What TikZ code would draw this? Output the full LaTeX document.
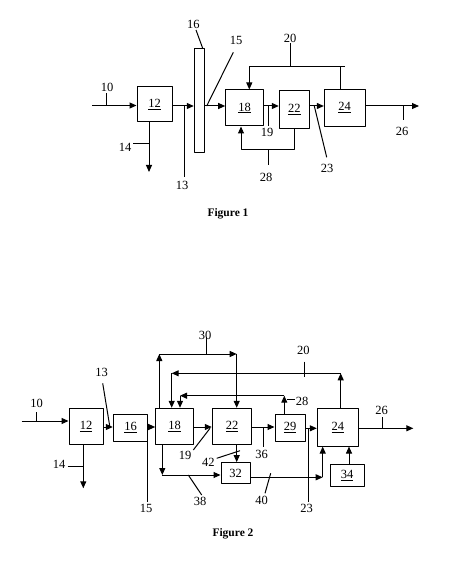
\documentclass[tikz,border=0pt]{standalone}
\usepackage{fontspec}
\setmainfont{Liberation Serif}
\usetikzlibrary{arrows.meta}
\begin{document}
\begin{tikzpicture}[x=1pt,y=-1pt,line width=1pt,line join=round,
	arr/.style={-{Triangle[length=7pt,width=6pt]}},
	blk/.style={draw,inner sep=0pt,font=\fontsize{12.5}{13}\selectfont},
	lbl/.style={inner sep=0pt,font=\fontsize{12.5}{13}\selectfont},
	figcap/.style={inner sep=0pt,font=\fontsize{11.5}{13}\selectfont\bfseries}]
	\useasboundingbox (0,0) rectangle (474,561);
	% Figure 1
	\foreach \n/\t/\x/\y/\w/\h in {a12/\underline{12}/154.5/104.5/35/35,
		a16/{}/199.3/100.5/10/104.4,a18/\underline{18}/244.5/108/37.6/36,
		a22/\underline{22}/294.3/109.2/30/38.3,a24/\underline{24}/344.7/107.7/40.7/36.7}
	\node[blk,minimum width=\w pt,minimum height=\h pt] (\n) at (\x,\y) {\t};
	\path
	(92,105.5) coordinate (A10)
	(0,106) coordinate (F1)
	(149,172) coordinate (D14)
	(419,106) coordinate (A26)
	(345,66.7) coordinate (R20)
	(340.7,66.7) coordinate (X20)
	(249.3,66.7) coordinate (L20)
	(241,150) coordinate (L28)
	;
	\draw[arr] (A10) -- (a12.west|-A10);
	\draw[arr] (D14|-a12.south) -- (D14);
	\draw[arr] (a12.east|-F1) -- (a16.west|-F1);
	\draw[arr] (a16.east|-F1) -- (a18.west|-F1);
	\draw[arr] (a18.east|-F1) -- (a22.west|-F1);
	\draw[arr] (a22.east|-F1) -- (a24.west|-F1);
	\draw[arr] (a24.east|-F1) -- (A26);
	\draw (X20|-a24.north) -- (X20);
	\draw (R20) -- (L20);
	\draw[arr] (L20) -- (L20|-a18.north);
	\draw[arr] (a22.south) |- (L28) -- (L28|-a18.south);
	\foreach \p/\q in {{106.7,105.5}/{106.7,93},{133,143.3}/{149,143.3},{184,106}/{184,177},
		{196,30}/{202.7,48.3},{206.7,106}/{233.3,52.3},{268.3,106}/{268.3,126},
		{314.3,106}/{326.7,157.3},{403.3,106}/{403.3,120},{290.7,43}/{290.7,66.7},
		{268.3,150}/{268.3,165}}
	\draw (\p) -- (\q);
	\foreach \n/\t/\x/\y in {p10/10/107/87,p14/14/125/147,p13/13/182/185,p16/16/193.3/24,
		p15/15/236/40,p19/19/267/132,p23/23/327/168,p26/26/402/131,p20/20/290/38.5,p28/28/266/177}
	\node[lbl] (\n) at (\x,\y) {\t};
	\node[figcap] (fig1) at (228,214) {Figure 1};
	% Figure 2
	\foreach \n/\t/\x/\y/\w/\h in {b12/\underline{12}/86.2/426.3/34.3/36,
		b16/\underline{16}/130.5/427.7/34.4/26.7,b18/\underline{18}/174.5/426.3/37.6/36,
		b22/\underline{22}/232/426.3/39.4/36,b32/32/235.5/473.3/29/21.3,
		b29/\underline{29}/290/427.7/30/26.7,b24/\underline{24}/337.8/427.2/41/37.7,
		b34/\underline{34}/347.2/475.2/34.3/21.7}
	\node[blk,minimum width=\w pt,minimum height=\h pt] (\n) at (\x,\y) {\t};
	\path
	(21.7,421) coordinate (In2)
	(0,427) coordinate (F2)
	(0,428.3) coordinate (G2)
	(83.3,488.3) coordinate (D14b)
	(413.3,428.3) coordinate (Out2)
	(162.3,475) coordinate (D38)
	(322.7,477.3) coordinate (R40)
	(349,470) coordinate (U34)
	(159.3,354) coordinate (X30a)
	(236.7,354) coordinate (X30b)
	(340.7,373.3) coordinate (X20a)
	(171.7,373.3) coordinate (X20b)
	(284.3,395.7) coordinate (X28a)
	(180,395.7) coordinate (X28b)
	;
	\draw[arr] (In2) -- (b12.west|-In2);
	\draw[arr] (D14b|-b12.south) -- (D14b);
	\draw[arr] (b12.east|-F2) -- (b16.west|-F2);
	\draw[arr] (b16.east|-F2) -- (b18.west|-F2);
	\draw[arr] (b18.east|-F2) -- (b22.west|-F2);
	\draw[arr] (b22.east|-F2) -- (b29.west|-F2);
	\draw[arr] (b29.east|-G2) -- (b24.west|-G2);
	\draw[arr] (b24.east|-G2) -- (Out2);
	\draw[arr] (b22.south-|X30b) -- (b32.north-|X30b);
	\draw[arr] (D38|-b18.south) -- (D38);
	\draw[arr] (D38) -- (b32.west|-D38);
	\draw[arr] (b32.east|-R40) -- (R40);
	\draw[arr] (R40) -- (R40|-b24.south);
	\draw[arr] (U34|-b34.north) -- (U34|-b24.south);
	\draw[arr] (X30a|-b18.north) -- (X30a);
	\draw[arr] (X30a) -- (X30b);
	\draw[arr] (X30b) -- (X30b|-b22.north);
	\draw[arr] (X20a|-b24.north) -- (X20a);
	\draw[arr] (X20a) -- (X20b);
	\draw[arr] (X20b) -- (X20b|-b18.north);
	\draw[arr] (X28a|-b29.north) -- (X28a);
	\draw[arr] (X28a) -- (X28b);
	\draw[arr] (X28b) -- (X28b|-b18.north);
	\foreach \p/\q in {{36.7,421}/{36.7,411.7},{67.7,466.7}/{83.3,466.7},{102.7,383.3}/{110,427.7},
		{147.3,427}/{147.3,501.7},{193.3,450}/{210,428.3},{216.7,458.3}/{240,450.7},
		{188.3,475}/{201.7,495},{270.7,473.3}/{265,493.3},{263.3,427}/{263.3,446.7},
		{308.3,428.3}/{308.3,501.7},{382.7,428.3}/{382.7,416.7},{206.7,337}/{206.7,354},
		{304.3,361.7}/{304.3,376.7},{286.7,399.3}/{295,399.3}}
	\draw (\p) -- (\q);
	\foreach \n/\t/\x/\y in {q10/10/36.7/403.5,q14/14/59/464,q13/13/101.7/372.3,q15/15/146/508.3,
		q19/19/185/455,q42/42/208.3/462.7,q38/38/200/501,q40/40/261.7/500,q36/36/261.7/454.3,
		q23/23/306.7/508.3,q26/26/381.7/410,q30/30/205/335,q20/20/303.3/350.7,q28/28/302/401}
	\node[lbl] (\n) at (\x,\y) {\t};
	\node[figcap] (fig2) at (233,534) {Figure 2};
\end{tikzpicture}
\end{document}
